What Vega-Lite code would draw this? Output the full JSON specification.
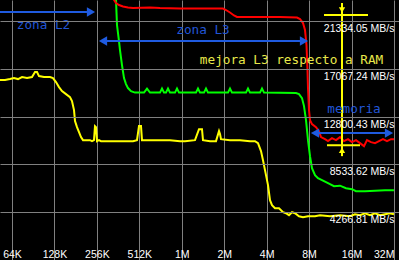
{
  "$schema": "https://vega.github.io/schema/vega-lite/v6.json",
  "width": 399,
  "height": 260,
  "padding": 0,
  "autosize": {"type": "none"},
  "background": "#000000",
  "config": {"view": {"stroke": null}},
  "datasets": {
    "lines": [
      {"s": "yellow", "kb": 50.9, "mbs": 16062}, {"s": "yellow", "kb": 57.1, "mbs": 16062}, {"s": "yellow", "kb": 61.9, "mbs": 16151},
      {"s": "yellow", "kb": 66.1, "mbs": 16241}, {"s": "yellow", "kb": 70.6, "mbs": 16151}, {"s": "yellow", "kb": 75.4, "mbs": 16330},
      {"s": "yellow", "kb": 81.8, "mbs": 16241}, {"s": "yellow", "kb": 88.7, "mbs": 16330}, {"s": "yellow", "kb": 93.2, "mbs": 16777},
      {"s": "yellow", "kb": 96.3, "mbs": 16777}, {"s": "yellow", "kb": 99.5, "mbs": 16419}, {"s": "yellow", "kb": 107.9, "mbs": 16330},
      {"s": "yellow", "kb": 119.0, "mbs": 16330}, {"s": "yellow", "kb": 125.0, "mbs": 16241}, {"s": "yellow", "kb": 131.3, "mbs": 15883},
      {"s": "yellow", "kb": 137.9, "mbs": 15436}, {"s": "yellow", "kb": 144.8, "mbs": 15079}, {"s": "yellow", "kb": 154.6, "mbs": 14811},
      {"s": "yellow", "kb": 165.0, "mbs": 14543}, {"s": "yellow", "kb": 170.5, "mbs": 14185}, {"s": "yellow", "kb": 176.2, "mbs": 13381},
      {"s": "yellow", "kb": 179.1, "mbs": 12398}, {"s": "yellow", "kb": 185.0, "mbs": 11862}, {"s": "yellow", "kb": 191.2, "mbs": 11415},
      {"s": "yellow", "kb": 197.5, "mbs": 10969}, {"s": "yellow", "kb": 204.1, "mbs": 10701}, {"s": "yellow", "kb": 228.8, "mbs": 10701},
      {"s": "yellow", "kb": 236.4, "mbs": 10611}, {"s": "yellow", "kb": 244.2, "mbs": 10701}, {"s": "yellow", "kb": 248.2, "mbs": 11952},
      {"s": "yellow", "kb": 252.4, "mbs": 11862}, {"s": "yellow", "kb": 256.5, "mbs": 10611}, {"s": "yellow", "kb": 265.0, "mbs": 10701},
      {"s": "yellow", "kb": 273.8, "mbs": 10611}, {"s": "yellow", "kb": 317.2, "mbs": 10611}, {"s": "yellow", "kb": 373.4, "mbs": 10611},
      {"s": "yellow", "kb": 461.8, "mbs": 10611}, {"s": "yellow", "kb": 492.9, "mbs": 10701}, {"s": "yellow", "kb": 509.3, "mbs": 11952},
      {"s": "yellow", "kb": 526.2, "mbs": 11952}, {"s": "yellow", "kb": 534.9, "mbs": 10701}, {"s": "yellow", "kb": 609.6, "mbs": 10701},
      {"s": "yellow", "kb": 717.7, "mbs": 10701}, {"s": "yellow", "kb": 845.1, "mbs": 10701}, {"s": "yellow", "kb": 995.0, "mbs": 10611},
      {"s": "yellow", "kb": 1079.6, "mbs": 10611}, {"s": "yellow", "kb": 1271.2, "mbs": 10701}, {"s": "yellow", "kb": 1357.0, "mbs": 11683},
      {"s": "yellow", "kb": 1425.1, "mbs": 11683}, {"s": "yellow", "kb": 1448.6, "mbs": 10701}, {"s": "yellow", "kb": 1624.1, "mbs": 10611},
      {"s": "yellow", "kb": 1791.4, "mbs": 10611}, {"s": "yellow", "kb": 1881.3, "mbs": 11505}, {"s": "yellow", "kb": 1912.3, "mbs": 11237},
      {"s": "yellow", "kb": 1943.8, "mbs": 10790}, {"s": "yellow", "kb": 2251.5, "mbs": 10701}, {"s": "yellow", "kb": 2650.9, "mbs": 10701},
      {"s": "yellow", "kb": 3121.4, "mbs": 10611}, {"s": "yellow", "kb": 3386.8, "mbs": 10611}, {"s": "yellow", "kb": 3557.0, "mbs": 10432},
      {"s": "yellow", "kb": 3735.5, "mbs": 9718}, {"s": "yellow", "kb": 3859.7, "mbs": 8913}, {"s": "yellow", "kb": 3987.7, "mbs": 8020},
      {"s": "yellow", "kb": 4188, "mbs": 6680}, {"s": "yellow", "kb": 4327, "mbs": 5339}, {"s": "yellow", "kb": 4471, "mbs": 4892},
      {"s": "yellow", "kb": 4695, "mbs": 4624}, {"s": "yellow", "kb": 5012, "mbs": 4624}, {"s": "yellow", "kb": 5351, "mbs": 4267},
      {"s": "yellow", "kb": 5619, "mbs": 4177}, {"s": "yellow", "kb": 5901, "mbs": 3999}, {"s": "yellow", "kb": 6198, "mbs": 4267},
      {"s": "yellow", "kb": 6509, "mbs": 4177}, {"s": "yellow", "kb": 6949, "mbs": 3909}, {"s": "yellow", "kb": 7418, "mbs": 3820},
      {"s": "yellow", "kb": 8049, "mbs": 3909}, {"s": "yellow", "kb": 9024, "mbs": 3909}, {"s": "yellow", "kb": 9791, "mbs": 3999},
      {"s": "yellow", "kb": 11529, "mbs": 3909}, {"s": "yellow", "kb": 13574, "mbs": 3999}, {"s": "yellow", "kb": 15982, "mbs": 3909},
      {"s": "yellow", "kb": 17343, "mbs": 4088}, {"s": "yellow", "kb": 18819, "mbs": 3999}, {"s": "yellow", "kb": 20419, "mbs": 4177},
      {"s": "yellow", "kb": 22156, "mbs": 3999}, {"s": "yellow", "kb": 24042, "mbs": 4177}, {"s": "yellow", "kb": 26088, "mbs": 3999},
      {"s": "yellow", "kb": 28308, "mbs": 4088}, {"s": "yellow", "kb": 30717, "mbs": 4177}, {"s": "yellow", "kb": 32768, "mbs": 4088},

      {"s": "green", "kb": 344.2, "mbs": 24104}, {"s": "green", "kb": 349.8, "mbs": 23211}, {"s": "green", "kb": 355.6, "mbs": 20977},
      {"s": "green", "kb": 367.4, "mbs": 19547}, {"s": "green", "kb": 373.4, "mbs": 18743}, {"s": "green", "kb": 385.8, "mbs": 17402},
      {"s": "green", "kb": 398.7, "mbs": 16241}, {"s": "green", "kb": 411.9, "mbs": 15705}, {"s": "green", "kb": 425.5, "mbs": 15348},
      {"s": "green", "kb": 446.9, "mbs": 15079}, {"s": "green", "kb": 477.1, "mbs": 14945}, {"s": "green", "kb": 552.7, "mbs": 14945},
      {"s": "green", "kb": 580.4, "mbs": 15302}, {"s": "green", "kb": 609.6, "mbs": 14945}, {"s": "green", "kb": 717.7, "mbs": 14945},
      {"s": "green", "kb": 741.5, "mbs": 15302}, {"s": "green", "kb": 766.2, "mbs": 14945}, {"s": "green", "kb": 791.6, "mbs": 14945},
      {"s": "green", "kb": 817.9, "mbs": 15302}, {"s": "green", "kb": 845.1, "mbs": 14945}, {"s": "green", "kb": 917.0, "mbs": 14945},
      {"s": "green", "kb": 947.4, "mbs": 15302}, {"s": "green", "kb": 978.9, "mbs": 14945}, {"s": "green", "kb": 1292.1, "mbs": 14945},
      {"s": "green", "kb": 1335.0, "mbs": 15302}, {"s": "green", "kb": 1379.3, "mbs": 14945}, {"s": "green", "kb": 1472.5, "mbs": 14945},
      {"s": "green", "kb": 1521.4, "mbs": 15302}, {"s": "green", "kb": 1571.8, "mbs": 14945}, {"s": "green", "kb": 2179.1, "mbs": 14945},
      {"s": "green", "kb": 2251.5, "mbs": 15302}, {"s": "green", "kb": 2326.4, "mbs": 14945}, {"s": "green", "kb": 2924.0, "mbs": 14945},
      {"s": "green", "kb": 3021.0, "mbs": 15302}, {"s": "green", "kb": 3121.4, "mbs": 14945}, {"s": "green", "kb": 3675.0, "mbs": 14945},
      {"s": "green", "kb": 3797.2, "mbs": 15302}, {"s": "green", "kb": 3923.4, "mbs": 14945}, {"s": "green", "kb": 6616.3, "mbs": 14900},
      {"s": "green", "kb": 6948.5, "mbs": 14811}, {"s": "green", "kb": 7297.4, "mbs": 14454}, {"s": "green", "kb": 7539.9, "mbs": 13739},
      {"s": "green", "kb": 7790.2, "mbs": 12488}, {"s": "green", "kb": 8048.6, "mbs": 10701}, {"s": "green", "kb": 8316, "mbs": 9271},
      {"s": "green", "kb": 8592, "mbs": 8199}, {"s": "green", "kb": 9024, "mbs": 7573}, {"s": "green", "kb": 9477, "mbs": 7305},
      {"s": "green", "kb": 10116, "mbs": 7126}, {"s": "green", "kb": 10800, "mbs": 6948}, {"s": "green", "kb": 11529, "mbs": 6769},
      {"s": "green", "kb": 12307, "mbs": 6590}, {"s": "green", "kb": 13574, "mbs": 6635}, {"s": "green", "kb": 14971, "mbs": 6411},
      {"s": "green", "kb": 16513, "mbs": 6322}, {"s": "green", "kb": 17627, "mbs": 6143}, {"s": "green", "kb": 20419, "mbs": 6143},
      {"s": "green", "kb": 24042, "mbs": 6188}, {"s": "green", "kb": 28308, "mbs": 6233}, {"s": "green", "kb": 32768, "mbs": 6233},

      {"s": "red", "kb": 333.1, "mbs": 23925}, {"s": "red", "kb": 338.6, "mbs": 23211}, {"s": "red", "kb": 349.8, "mbs": 22943},
      {"s": "red", "kb": 367.4, "mbs": 22764}, {"s": "red", "kb": 392.2, "mbs": 22630}, {"s": "red", "kb": 425.5, "mbs": 22541},
      {"s": "red", "kb": 461.8, "mbs": 22496}, {"s": "red", "kb": 609.6, "mbs": 22541}, {"s": "red", "kb": 717.7, "mbs": 22496},
      {"s": "red", "kb": 995.0, "mbs": 22451}, {"s": "red", "kb": 1379.3, "mbs": 22451}, {"s": "red", "kb": 2008.3, "mbs": 22451},
      {"s": "red", "kb": 2109.1, "mbs": 22317}, {"s": "red", "kb": 2251.5, "mbs": 22094}, {"s": "red", "kb": 2403.6, "mbs": 21826},
      {"s": "red", "kb": 2524.2, "mbs": 21692}, {"s": "red", "kb": 3675.0, "mbs": 21692}, {"s": "red", "kb": 5094.6, "mbs": 21692},
      {"s": "red", "kb": 6725.2, "mbs": 21647}, {"s": "red", "kb": 7063.2, "mbs": 21513}, {"s": "red", "kb": 7417.9, "mbs": 21155},
      {"s": "red", "kb": 7664.0, "mbs": 20530}, {"s": "red", "kb": 7854.0, "mbs": 19189}, {"s": "red", "kb": 7983.5, "mbs": 16956},
      {"s": "red", "kb": 8048.6, "mbs": 15348}, {"s": "red", "kb": 8181, "mbs": 13381}, {"s": "red", "kb": 8316, "mbs": 12488},
      {"s": "red", "kb": 8592, "mbs": 12130}, {"s": "red", "kb": 9172, "mbs": 11862}, {"s": "red", "kb": 9633, "mbs": 11505},
      {"s": "red", "kb": 9953, "mbs": 10969}, {"s": "red", "kb": 10625, "mbs": 10790}, {"s": "red", "kb": 11158, "mbs": 10611},
      {"s": "red", "kb": 11911, "mbs": 10880}, {"s": "red", "kb": 12716, "mbs": 10701}, {"s": "red", "kb": 13574, "mbs": 10969},
      {"s": "red", "kb": 14490, "mbs": 10611}, {"s": "red", "kb": 15469, "mbs": 10790}, {"s": "red", "kb": 16513, "mbs": 10522},
      {"s": "red", "kb": 17627, "mbs": 10701}, {"s": "red", "kb": 18819, "mbs": 10432}, {"s": "red", "kb": 20088, "mbs": 10164},
      {"s": "red", "kb": 21096, "mbs": 10701}, {"s": "red", "kb": 22521, "mbs": 10522}, {"s": "red", "kb": 24042, "mbs": 10432},
      {"s": "red", "kb": 25664, "mbs": 10611}, {"s": "red", "kb": 27396, "mbs": 10790}, {"s": "red", "kb": 29248, "mbs": 10611},
      {"s": "red", "kb": 31227, "mbs": 10790}, {"s": "red", "kb": 32768, "mbs": 10790}
    ],
    "blueRules": [
      {"kb": 40, "kb2": 232.6, "mbs": 22138},
      {"kb": 282.9, "kb2": 7539.9, "mbs": 19547},
      {"kb": 9023.5, "kb2": 30218, "mbs": 11327}
    ],
    "yellowRules": [
      {"kb": 14027, "kb2": 14027, "mbs": 22943, "mbs2": 9271},
      {"kb": 10452, "kb2": 21445, "mbs": 21870, "mbs2": 21870},
      {"kb": 10976, "kb2": 18819, "mbs": 10254, "mbs2": 10254}
    ],
    "heads": [
      {"kind": "blue", "dir": "right", "kb": 232.6, "mbs": 22138},
      {"kind": "blue", "dir": "left", "kb": 282.9, "mbs": 19547},
      {"kind": "blue", "dir": "right", "kb": 7539.9, "mbs": 19547},
      {"kind": "blue", "dir": "left", "kb": 9023.5, "mbs": 11327},
      {"kind": "blue", "dir": "right", "kb": 30218, "mbs": 11327},
      {"kind": "yellow", "dir": "down", "kb": 14027, "mbs": 22317},
      {"kind": "yellow", "dir": "up", "kb": 14027, "mbs": 9807}
    ],
    "texts": [
      {"label": "zona L2", "kind": "blue", "kb": 107.1, "mbs": 20619},
      {"label": "zona L3", "kind": "blue", "kb": 1448.7, "mbs": 20172},
      {"label": "memoria", "kind": "blue", "kb": 17061, "mbs": 13113},
      {"label": "mejora L3 respecto a RAM", "kind": "yellow", "kb": 6148, "mbs": 17492}
    ]
  },
  "encoding": {
    "x": {
      "field": "kb",
      "type": "quantitative",
      "scale": {"type": "log", "base": 2, "domain": [52.61, 35580], "nice": false, "zero": false},
      "axis": {
        "values": [64, 128, 256, 512, 1024, 2048, 4096, 8192, 16384, 32768],
        "labelExpr": "datum.value >= 1024 ? (datum.value / 1024) + 'M' : datum.value + 'K'",
        "title": null,
        "grid": true,
        "gridColor": "#808080",
        "gridWidth": 1,
        "gridOpacity": 1,
        "ticks": false,
        "tickSize": 0,
        "domain": true,
        "domainColor": "#5a5a5a",
        "domainWidth": 4,
        "offset": 2,
        "labelPadding": -5,
        "labelBaseline": "alphabetic",
        "labelColor": "#ffffff",
        "labelFont": "Liberation Sans",
        "labelFontSize": 10.5,
        "labelAlign": {"condition": {"test": "datum.value >= 32768", "value": "right"}, "value": "center"},
        "labelFlush": false,
        "labelOverlap": false,
        "labelBound": false,
        "zindex": 0
      }
    },
    "y": {
      "field": "mbs",
      "type": "quantitative",
      "scale": {"domain": [0, 23211], "nice": false},
      "axis": {
        "orient": "right",
        "values": [4266.81, 8533.62, 12800.43, 17067.24, 21334.05],
        "labelExpr": "format(datum.value, '.2f') + ' MB/s'",
        "title": null,
        "grid": true,
        "gridColor": "#808080",
        "gridWidth": 1,
        "gridOpacity": 1,
        "ticks": false,
        "tickSize": 0,
        "domain": false,
        "labelPadding": -5,
        "labelAlign": "right",
        "labelBaseline": "alphabetic",
        "labelOffset": 10.5,
        "labelColor": "#ffffff",
        "labelFont": "Liberation Sans",
        "labelFontSize": 10.5,
        "labelFlush": false,
        "labelOverlap": false,
        "labelBound": false,
        "zindex": 1
      }
    }
  },
  "layer": [
    {
      "data": {"name": "lines"},
      "mark": {"type": "line", "clip": true, "strokeWidth": 2},
      "encoding": {
        "color": {
          "field": "s",
          "type": "nominal",
          "scale": {"domain": ["yellow", "green", "red"], "range": ["#ffff00", "#00ff00", "#ff0000"]},
          "legend": null
        }
      }
    },
    {
      "data": {"name": "blueRules"},
      "mark": {"type": "rule", "clip": true, "color": "#1f5be0", "strokeWidth": 2},
      "encoding": {"x2": {"field": "kb2"}}
    },
    {
      "data": {"name": "yellowRules"},
      "mark": {"type": "rule", "clip": true, "color": "#ffff00", "strokeWidth": 2},
      "encoding": {"x2": {"field": "kb2"}, "y2": {"field": "mbs2"}}
    },
    {
      "data": {"name": "heads"},
      "transform": [{"filter": "datum.kind === 'blue'"}],
      "mark": {"type": "point", "filled": true, "opacity": 1, "color": "#1f5be0", "size": 90, "strokeWidth": 0},
      "encoding": {
        "shape": {
          "field": "dir",
          "type": "nominal",
          "scale": {"domain": ["left", "right", "up", "down"], "range": ["triangle-left", "triangle-right", "triangle-up", "triangle-down"]},
          "legend": null
        }
      }
    },
    {
      "data": {"name": "heads"},
      "transform": [{"filter": "datum.kind === 'yellow'"}],
      "mark": {"type": "point", "filled": true, "opacity": 1, "color": "#ffff00", "size": 40, "strokeWidth": 0},
      "encoding": {
        "shape": {
          "field": "dir",
          "type": "nominal",
          "scale": {"domain": ["left", "right", "up", "down"], "range": ["triangle-left", "triangle-right", "triangle-up", "triangle-down"]},
          "legend": null
        }
      }
    },
    {
      "data": {"name": "texts"},
      "transform": [{"filter": "datum.kind === 'blue'"}],
      "mark": {"type": "text", "font": "DejaVu Sans Mono", "fontSize": 12.7, "align": "center", "baseline": "alphabetic", "color": "#2256d6"},
      "encoding": {"text": {"field": "label"}}
    },
    {
      "data": {"name": "texts"},
      "transform": [{"filter": "datum.kind === 'yellow'"}],
      "mark": {"type": "text", "font": "DejaVu Sans Mono", "fontSize": 12.7, "align": "center", "baseline": "alphabetic", "color": "#e8e84a"},
      "encoding": {"text": {"field": "label"}}
    }
  ]
}
